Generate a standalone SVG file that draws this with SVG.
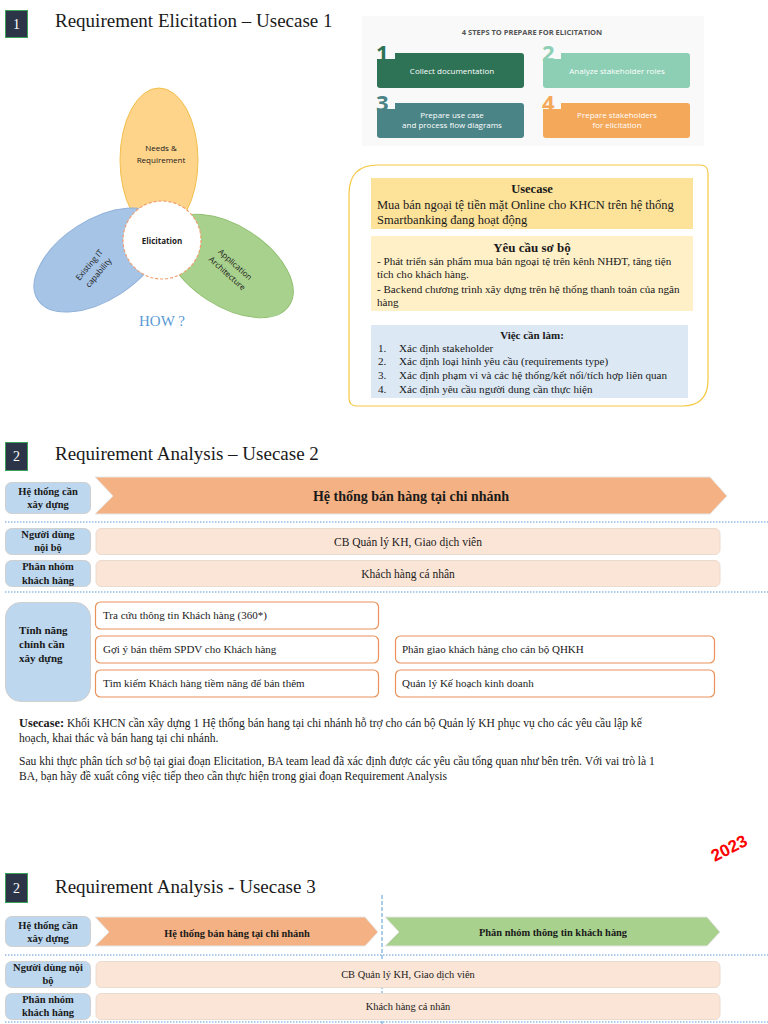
<svg xmlns="http://www.w3.org/2000/svg" width="768" height="1024" viewBox="0 0 768 1024">
<style>
.serif{font-family:"Liberation Serif","Times New Roman",serif;fill:#1a1a1a}
.title{font-family:"Liberation Serif",serif;font-size:19px;fill:#1a1a1a}
.num{font-family:"Liberation Serif",serif;font-size:14px;fill:#ffffff}
.sq{fill:#2b3547;stroke:#3aa05a;stroke-width:1}
.lbl{fill:#bdd7ee;stroke:#d0d0d0;stroke-width:1}
.lbt{font-family:"Liberation Serif",serif;font-size:10.5px;font-weight:bold;fill:#1a1a1a;text-anchor:middle}
.wide{fill:#fbe5d6;stroke:#eadbd0;stroke-width:1}
.feat{fill:#ffffff;stroke:#e8925a;stroke-width:1.2}
.ft{font-family:"Liberation Serif",serif;font-size:11px;fill:#1a1a1a}
.dot{stroke:#5b9bd5;stroke-width:1;stroke-dasharray:1.5 1.5;fill:none}
.step{font-family:"Open Sans","Liberation Sans",sans-serif;font-size:8px;fill:#ffffff;text-anchor:middle}
.stepn{font-family:"Open Sans","Liberation Sans",sans-serif;font-size:22px;font-weight:bold}
.pt{font-family:"Open Sans","Liberation Sans",sans-serif;font-size:8px;fill:#1a1a1a;text-anchor:middle}
</style>

<g id="header1">
<rect class="sq" x="5.5" y="10.5" width="22" height="27"/>
<text class="num" x="16.5" y="29" text-anchor="middle">1</text>
<text class="title" x="55" y="27">Requirement Elicitation – Usecase 1</text>
</g>

<g id="steps">
<rect x="362" y="16" width="342" height="130" fill="#f9f9f9"/>
<text x="532" y="35" font-family="Open Sans,Liberation Sans,sans-serif" font-size="7.5" font-weight="bold" fill="#555" text-anchor="middle">4 STEPS TO PREPARE FOR ELICITATION</text>
<g id="step1">
<rect x="377" y="53" width="147" height="35" rx="3" fill="#2e7356"/>
<rect x="375" y="43" width="20" height="16" fill="#f9f9f9"/>
<text class="stepn" x="376" y="61" fill="#2e7356">1</text>
<text class="step" x="452" y="74">Collect documentation</text>
</g>
<g id="step2">
<rect x="543" y="53" width="147" height="35" rx="3" fill="#8dcfb5"/>
<rect x="541" y="43" width="20" height="16" fill="#f9f9f9"/>
<text class="stepn" x="542" y="61" fill="#8dcfb5">2</text>
<text class="step" x="617" y="74">Analyze stakeholder roles</text>
</g>
<g id="step3">
<rect x="377" y="103" width="147" height="35" rx="3" fill="#4a8486"/>
<rect x="375" y="93" width="20" height="16" fill="#f9f9f9"/>
<text class="stepn" x="376" y="111" fill="#4a8486">3</text>
<text class="step" x="452" y="118">Prepare use case</text>
<text class="step" x="452" y="128">and process flow diagrams</text>
</g>
<g id="step4">
<rect x="543" y="103" width="147" height="35" rx="3" fill="#f4a85a"/>
<rect x="541" y="93" width="20" height="16" fill="#f9f9f9"/>
<text class="stepn" x="542" y="111" fill="#f4a85a">4</text>
<text class="step" x="617" y="118">Prepare stakeholders</text>
<text class="step" x="617" y="128">for elicitation</text>
</g>
</g>

<g id="petals">
<g id="needs">
<ellipse cx="159" cy="160" rx="39" ry="72" fill="#fed38a" stroke="#f2c04d" stroke-width="1"/>
<text class="pt" x="161" y="151">Needs &amp;</text>
<text class="pt" x="161" y="163">Requirement</text>
</g>
<g id="existing">
<ellipse cx="0" cy="0" rx="73" ry="40" fill="#a6c4e6" stroke="#8fb0d8" stroke-width="1" transform="translate(99,260) rotate(-33)"/>
<text class="pt" transform="translate(93,268) rotate(-50)"><tspan x="0" y="-2">Existing IT</tspan><tspan x="0" y="10">capability</tspan></text>
</g>
<g id="application">
<ellipse cx="0" cy="0" rx="72" ry="40" fill="#a9d18e" stroke="#90c070" stroke-width="1" transform="translate(229,266) rotate(33)"/>
<text class="pt" transform="translate(232,268) rotate(42)"><tspan x="0" y="-2">Application</tspan><tspan x="0" y="10">Architecture</tspan></text>
</g>
<g id="elicitation">
<circle cx="162" cy="240" r="39" fill="#ffffff" stroke="#f0a070" stroke-width="1.2" stroke-dasharray="3 2"/>
<text class="pt" x="162" y="244" font-weight="bold">Elicitation</text>
</g>
<text x="162" y="326" font-family="Liberation Serif,serif" font-size="15" fill="#5b9bd5" text-anchor="middle">HOW ?</text>
</g>

<g id="usecase1">
<path d="M378,165 L700,165 Q708,165 708,173 L708,380 Q708,406 682,406 L357,406 Q349,406 349,398 L349,194 Q349,165 378,165 Z" fill="#ffffff" stroke="#f5c842" stroke-width="1.2"/>
<g id="uc-box">
<rect x="371" y="178" width="322" height="51" fill="#fde29a"/>
<text class="serif" x="532" y="193" font-size="12.5" font-weight="bold" text-anchor="middle">Usecase</text>
<text class="serif" x="377" y="209" font-size="12.5">Mua bán ngoại tệ tiền mặt Online cho KHCN trên hệ thống</text>
<text class="serif" x="377" y="224" font-size="12.5">Smartbanking đang hoạt động</text>
</g>
<g id="req-box">
<rect x="371" y="236" width="322" height="75" fill="#fff0c8"/>
<text class="serif" x="532" y="252" font-size="13" font-weight="bold" text-anchor="middle">Yêu cầu sơ bộ</text>
<text class="serif" x="377" y="265" font-size="11.1">- Phát triển sản phẩm mua bán ngoại tệ trên kênh NHĐT, tăng tiện</text>
<text class="serif" x="377" y="278" font-size="11.1">tích cho khách hàng.</text>
<text class="serif" x="377" y="293" font-size="11.1">- Backend chương trình xây dựng trên hệ thống thanh toán của ngân</text>
<text class="serif" x="377" y="306" font-size="11.1">hàng</text>
</g>
<g id="todo-box">
<rect x="371" y="325" width="317" height="73" fill="#dce8f4"/>
<text class="serif" x="532" y="339" font-size="11" font-weight="bold" text-anchor="middle">Việc cần làm:</text>
<g class="serif" font-size="11.1">
<text x="378" y="352">1.</text><text x="399" y="352">Xác định stakeholder</text>
<text x="378" y="365">2.</text><text x="399" y="365">Xác định loại hình yêu cầu (requirements type)</text>
<text x="378" y="379">3.</text><text x="399" y="379">Xác định phạm vi và các hệ thống/kết nối/tích hợp liên quan</text>
<text x="378" y="393">4.</text><text x="399" y="393">Xác định yêu cầu người dung cần thực hiện</text>
</g>
</g>
</g>

<g id="header2">
<rect class="sq" x="5.5" y="442.5" width="22" height="28"/>
<text class="num" x="16.5" y="461" text-anchor="middle">2</text>
<text class="title" x="55" y="460">Requirement Analysis – Usecase 2</text>
</g>

<g id="connectors">
<line class="dot" x1="5" y1="522" x2="768" y2="522"/>
<line class="dot" x1="5" y1="592" x2="768" y2="592"/>
<line class="dot" x1="5" y1="955" x2="768" y2="955"/>
<line class="dot" x1="5" y1="1022" x2="768" y2="1022"/>
<line x1="382" y1="895" x2="382" y2="1024" stroke="#5b9bd5" stroke-width="1" stroke-dasharray="4 2"/>
</g>

<g id="uc2-system">
<rect class="lbl" x="5.5" y="482.5" width="85" height="31" rx="6"/>
<text class="lbt" x="48" y="495">Hệ thống cần</text>
<text class="lbt" x="48" y="508">xây dựng</text>
<path d="M95,477 L710,477 L727,496 L710,514 L95,514 L113,496 Z" fill="#f4b183" stroke="#e6e6e6" stroke-width="1"/>
<text class="serif" x="411" y="501" font-size="14" font-weight="bold" text-anchor="middle">Hệ thống bán hàng tại chi nhánh</text>
</g>
<g id="uc2-users">
<rect class="lbl" x="5.5" y="528.5" width="85" height="26" rx="6"/>
<text class="lbt" x="48" y="538">Người dùng</text>
<text class="lbt" x="48" y="551">nội bộ</text>
<rect class="wide" x="96" y="528.5" width="624" height="26" rx="5"/>
<text class="serif" x="408" y="546" font-size="11.5" text-anchor="middle">CB Quản lý KH, Giao dịch viên</text>
</g>
<g id="uc2-group">
<rect class="lbl" x="5.5" y="560.5" width="85" height="26" rx="6"/>
<text class="lbt" x="48" y="570">Phân nhóm</text>
<text class="lbt" x="48" y="584">khách hàng</text>
<rect class="wide" x="96" y="560.5" width="624" height="26" rx="5"/>
<text class="serif" x="408" y="578" font-size="11.5" text-anchor="middle">Khách hàng cá nhân</text>
</g>
<g id="uc2-features">
<rect class="lbl" x="5.5" y="602.5" width="85" height="99" rx="15"/>
<text class="ft" x="19" y="634" font-weight="bold">Tính năng</text>
<text class="ft" x="19" y="648" font-weight="bold">chính cần</text>
<text class="ft" x="19" y="662" font-weight="bold">xây dựng</text>
</g>
<g id="f1"><rect class="feat" x="95.5" y="602" width="283" height="27" rx="5"/><text class="ft" x="103" y="619">Tra cứu thông tin Khách hàng (360*)</text></g>
<g id="f2"><rect class="feat" x="95.5" y="636" width="283" height="27" rx="5"/><text class="ft" x="103" y="653">Gợi ý bán thêm SPDV cho Khách hàng</text></g>
<g id="f3"><rect class="feat" x="95.5" y="670" width="283" height="27" rx="5"/><text class="ft" x="103" y="687">Tìm kiếm Khách hàng tiềm năng để bán thêm</text></g>
<g id="f4"><rect class="feat" x="395.5" y="636" width="319" height="27" rx="5"/><text class="ft" x="402" y="653">Phân giao khách hàng cho cán bộ QHKH</text></g>
<g id="f5"><rect class="feat" x="395.5" y="670" width="319" height="27" rx="5"/><text class="ft" x="402" y="687">Quản lý Kế hoạch kinh doanh</text></g>

<g id="paragraph" class="serif" font-size="11.55">
<text x="19" y="727"><tspan font-weight="bold" font-size="12.3">Usecase:</tspan> Khối KHCN cần xây dựng 1 Hệ thống bán hang tại chi nhánh hỗ trợ cho cán bộ Quản lý KH phục vụ cho các yêu cầu lập kế</text>
<text x="19" y="742">hoạch, khai thác và bán hang tại chi nhánh.</text>
<text x="19" y="765">Sau khi thực phân tích sơ bộ tại giai đoạn Elicitation, BA team lead đã xác định được các yêu cầu tổng quan như bên trên. Với vai trò là 1</text>
<text x="19" y="780">BA, bạn hãy đề xuất công việc tiếp theo cần thực hiện trong giai đoạn Requirement Analysis</text>
</g>

<text x="729" y="854" font-family="Liberation Sans,Arial,sans-serif" font-size="17" font-weight="bold" fill="#ff0000" text-anchor="middle" transform="rotate(-27 729 848)">2023</text>

<g id="header3">
<rect class="sq" x="5.5" y="873.5" width="22" height="29"/>
<text class="num" x="16.5" y="893" text-anchor="middle">2</text>
<text class="title" x="55" y="893">Requirement Analysis - Usecase 3</text>
</g>

<g id="uc3-system">
<rect class="lbl" x="5.5" y="916.5" width="85" height="30" rx="6"/>
<text class="lbt" x="48" y="929">Hệ thống cần</text>
<text class="lbt" x="48" y="942">xây dựng</text>
<path d="M95,917 L365,917 L378,932 L365,946 L95,946 L109,932 Z" fill="#f4b183" stroke="#e6e6e6" stroke-width="1"/>
<text class="serif" x="237" y="937" font-size="10.4" font-weight="bold" text-anchor="middle">Hệ thống bán hàng tại chi nhánh</text>
<path d="M385,917 L707,917 L720,932 L707,946 L385,946 L399,932 Z" fill="#a9d18e" stroke="#e6e6e6" stroke-width="1"/>
<text class="serif" x="553" y="936" font-size="10.4" font-weight="bold" text-anchor="middle">Phân nhóm thông tin khách hàng</text>
</g>
<g id="uc3-users">
<rect class="lbl" x="5.5" y="961.5" width="85" height="26" rx="6"/>
<text class="lbt" x="48" y="971">Người dùng nội</text>
<text class="lbt" x="48" y="984">bộ</text>
<rect class="wide" x="96" y="961.5" width="624" height="26" rx="5"/>
<text class="serif" x="408" y="978" font-size="10.4" text-anchor="middle">CB Quản lý KH, Giao dịch viên</text>
</g>
<g id="uc3-group">
<rect class="lbl" x="5.5" y="993.5" width="85" height="26" rx="6"/>
<text class="lbt" x="48" y="1003">Phân nhóm</text>
<text class="lbt" x="48" y="1016">khách hàng</text>
<rect class="wide" x="96" y="993.5" width="624" height="26" rx="5"/>
<text class="serif" x="408" y="1010" font-size="10.4" text-anchor="middle">Khách hàng cá nhân</text>
</g>
</svg>
